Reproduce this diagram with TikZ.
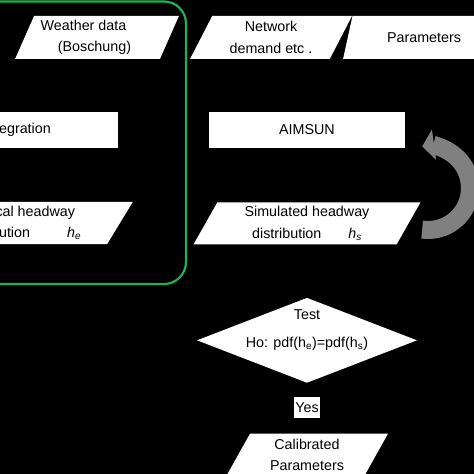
\documentclass[tikz,border=0pt]{standalone}
\usepackage{fontspec}
\setmainfont{Liberation Sans}
\usetikzlibrary{arrows.meta, positioning, shapes.geometric}
\definecolor{groupgreen}{RGB}{35,175,85}
\definecolor{loopgray}{RGB}{128,128,128}
\tikzset{
  dataio/.style   = {trapezium, trapezium left angle=64, trapezium right angle=116,
                     trapezium stretches=true, fill=white, inner sep=0pt,
                     minimum height=43bp, align=center},
  process/.style  = {rectangle, fill=white, inner sep=0pt, minimum width=196bp,
                     minimum height=36bp, align=center},
  decision/.style = {diamond, fill=white, inner sep=0pt, aspect=2.6,
                     minimum width=220bp, minimum height=85bp},
  answer/.style   = {rectangle, fill=white, inner sep=1bp, minimum width=26bp,
                     minimum height=21bp},
  group/.style    = {draw=groupgreen, line width=2.2bp, rounded corners=22bp},
  loopback/.style = {draw=loopgray, line width=18bp,
                     -{Triangle[length=12bp, width=30bp]}}
}

\begin{document}
\begin{tikzpicture}[x=1bp, y=-1bp, node distance=54bp,
  every node/.append style={font=\fontsize{14.3bp}{21.5bp}\selectfont, text=black}]
  \useasboundingbox (0,0) rectangle (474,474);
  \clip (0,0) rectangle (474,474);
  \fill[black] (0,0) rectangle (474,474);

  % measured data side
  \node[dataio, minimum width=164bp] (weatherIn) at (97,37.5)
                   {Weather data\hspace*{27bp}\\(Boschung)\hspace*{5bp}};
  \node[process, minimum width=202bp] (integ) at (17,130) {Integration};
  \node[dataio, minimum width=236bp, minimum height=42bp] (empHead) at (15,223)
                   {Empirical headway\\distribution\hspace{37bp}\textit{h\textsubscript{e}}\hspace*{-12bp}};
  \draw[group] (-30,1.5) rectangle (186,284);

  % simulation side
  \node[dataio, minimum width=162bp] (networkIn) at (271,37.5)
                   {Network\\demand etc .};
  \node[dataio, minimum width=162bp] (paramIn) at (424,37.5) {Parameters};
  \node[process] (aimsun) at (307,130) {AIMSUN};
  \node[dataio, minimum width=227bp, minimum height=42bp] (simHead) [below=of aimsun]
                   {Simulated headway\\distribution\hspace{27bp}\textit{h\textsubscript{s}}};

  % test and result
  \node[decision, label={[align=center, yshift=10.5bp]center:Test\\[6.5bp]Ho: pdf(h\textsubscript{e})=pdf(h\textsubscript{s})}]
                   (test) [below=53bp of simHead] {};
  \node[answer] (yesLbl) [below=14bp of test] {Yes};
  \node[dataio, minimum width=162bp] (calibOut) [below=15bp of yesLbl]
                   {Calibrated\\Parameters};

  % loop back to the simulator
  \coordinate (loopC) at (428,188);
  \draw[loopback] ([shift={(98:42)}]loopC) arc[start angle=98, end angle=-98, radius=42];
\end{tikzpicture}
\end{document}
